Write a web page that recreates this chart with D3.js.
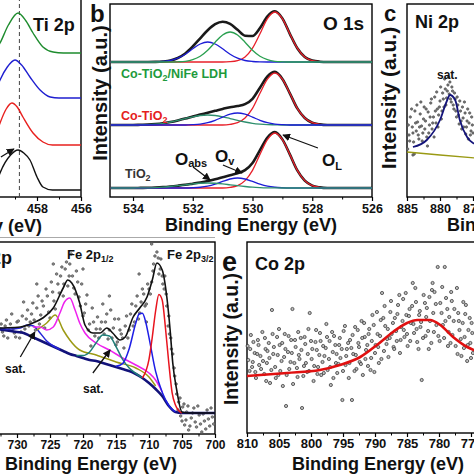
<!DOCTYPE html>
<html>
<head>
<meta charset="utf-8">
<script src="https://cdn.jsdelivr.net/npm/d3@7"></script>
<style>
  body { margin: 0; background: #fff; }
  svg text { font-family: "Liberation Sans", Arial, sans-serif; font-weight: bold; }
</style>
</head>
<body>
<div id="fig"></div>
<script>
// ---------- data (binding energy eV, intensity a.u.) ----------

// a) Ti 2p, four stacked spectra
const tiGreen = [[459.9,146],[459.68,154],[459.3,172],[458.86,184],[458.5,176],[458.18,164],[457.73,150],[457.27,145],[456.8,144],[456,144]];
const tiBlue  = [[459.9,105],[459.68,117],[459.35,130],[459.0,137],[458.7,132],[458.32,120],[457.86,107],[457.4,100],[457,99],[456,99]];
const tiRed   = [[459.9,60],[459.68,74],[459.4,88],[459.14,94],[458.9,90],[458.64,80],[458.18,64],[457.73,55],[457.3,52],[456,52]];
const tiBlack = [[459.9,10],[459.68,24],[459.2,42],[458.86,47],[458.6,44],[458.32,37],[458.0,20],[457.73,10],[457.3,7],[456,7]];
const tiRef = 458.8;

// b) O 1s fits: energy grid + component heights above each spectrum baseline
const oGrid = [534.75,534.5,534.25,534,533.75,533.5,533.25,533,532.75,532.5,532.25,532,531.75,531.5,531.25,531,
  530.75,530.5,530.25,530,529.75,529.5,529.25,529,528.75,528.5,528.25,528,527.75,527.5,527.25,527,526.75,526.5,526.25,526];
const oBase = [135, 72, 9]; // LDH, Co-TiO2, TiO2
const oLatt = [
  [0,0,0,0,0,0,0,0,0,0,0,0,0,0,0,0,0.3,1.4,5,13.8,28.2,43.4,50,43.4,28.2,13.8,5,1.4,0.3,0,0,0,0,0,0,0],
  [0,0,0,0,0,0,0,0,0,0,0,0,0,0,0,0,0.6,2.3,7,16.6,31.7,45.8,52,45.8,31.7,16.6,7,2.3,0.6,0,0,0,0,0,0,0],
  [0,0,0,0,0,0,0,0,0,0,0,0,0,0,0,0,0.6,2.4,7.4,17.6,33.6,48.4,55,48.4,33.6,17.6,7.4,2.4,0.6,0,0,0,0,0,0,0]
];
const oVac = [
  [0,0,0,0,0,0,0.1,0.5,1.5,3.8,7.8,13.2,18,20,18,13.2,7.8,3.8,1.5,0.5,0.1,0,0,0,0,0,0,0,0,0,0,0,0,0,0,0],
  [0,0,0,0,0,0,0,0,0,0,0,0.3,0.9,2.3,4.7,7.9,10.8,12,10.8,7.9,4.7,2.3,0.9,0.3,0,0,0,0,0,0,0,0,0,0,0,0],
  [0,0,0,0,0,0,0,0,0,0,0,0.24,0.76,1.9,3.9,6.6,9,10,9,6.6,3.9,1.9,0.76,0.24,0,0,0,0,0,0,0,0,0,0,0,0]
];
const oAbs = [
  [0,0,0,0,0,0,0,0,0,0.2,0.7,2.3,5.7,11.7,19.8,27,30,27,19.8,11.7,5.7,2.3,0.7,0.2,0,0,0,0,0,0,0,0,0,0,0,0],
  [0,0,0,0,0.2,0.4,0.9,1.7,3,4.6,6.4,8.2,9.5,10,9.5,8.2,6.4,4.6,3,1.7,0.9,0.4,0.2,0,0,0,0,0,0,0,0,0,0,0,0,0],
  [0,0,0,0,0.1,0.2,0.45,0.85,1.5,2.3,3.2,4.1,4.75,5,4.75,4.1,3.2,2.3,1.5,0.85,0.45,0.2,0.1,0,0,0,0,0,0,0,0,0,0,0,0,0]
];

// c) Ni 2p
const niSat  = [[884.1,50],[882,57],[880,77],[878.9,97],[878.5,102],[877.7,97],[877,77],[875.9,60],[875,54],[874.6,53]];
const niBg   = [[885,45],[880,42],[874.6,39]];
const niDots = [[884.7,62],[884.5,80],[884.2,70],[884,55],[883.8,86],[883.6,66],[883.4,75],[883.2,58],[883,83],[882.8,71],
  [882.6,64],[882.4,90],[882.2,76],[882,60],[881.8,85],[881.6,72],[881.4,94],[881.2,68],[881,80],[880.8,100],[880.6,74],
  [880.4,88],[880.2,82],[880,96],[879.8,78],[879.6,104],[879.4,90],[879.2,108],[879,99],[878.8,112],[878.6,103],[878.5,115],
  [878.3,95],[878.1,106],[877.9,88],[877.7,98],[877.5,80],[877.3,92],[877.1,73],[876.9,86],[876.7,68],[876.5,79],[876.3,95],
  [876.1,63],[875.9,76],[875.7,58],[875.5,84],[875.3,66],[875.1,72],[884.9,48],[883.9,43],[881.9,51],[880.9,60],[884.1,42],
  [884.8,72],[884.6,56],[884.3,88],[884.1,64],[883.7,74],[883.5,92],[883.3,62],[883.1,70],[882.9,95],[882.7,56],[882.5,78],
  [882.3,68],[882.1,88],[881.7,64],[881.5,80],[881.3,98],[881.1,74],[880.7,86],[880.5,105],[880.3,70],[880.1,90],[879.9,110],
  [879.7,86],[879.5,98],[879.3,118],[879.1,92],[878.9,106],[878.7,120],[878.4,98],[878.2,110],[878,92],[877.8,104],[877.6,86],
  [877.4,100],[877.2,82],[877,96],[876.8,76],[876.6,90],[876.4,70],[876.2,84],[876,70],[875.8,88],[875.6,74],[875.4,62],
  [875.2,80],[875,64]];

// d) Fe 2p
const feBg = [[735,106],[733,105],[732,104],[731,103],[730,102],[729,101],[728,98],[727,95],[726,92],[725,89],[724,86],[723,83],[722,80],
  [721,78],[720,76],[719,74],[718,73],[717,71],[716,69],[715,67],[714,65],[713,63],[712,60],[711,56],[710,51],[709,45],[708,38],
  [707,28],[706,22],[705,21],[704,21],[700,21]];
const feSat1  = [[735,107],[733,106],[731,105],[729.5,106],[728.5,109],[727.5,108],[726.5,101],[725.5,93],[724.5,88],[723.5,84.5]];
const feOlive = [[727,104],[725.5,111],[724.2,119],[723,104],[722,94],[720.5,84],[718,79],[715,72],[712,66],[710,57],[709,48]];
const feMag   = [[727.6,107],[726.5,107],[725.5,104],[724.5,107],[723.5,121],[722.8,132],[722,136],[721.2,124],[720.5,111],
  [719.7,101],[718,91],[716,84],[714,76],[712,69],[710,61],[709,54],[708,42]];
const feTeal  = [[721,78.5],[720,78.4],[719,82],[718,91.2],[717,99],[716,98],[715,87.4],[714,74.7],[713,66],[712,60.7],[711,56]];
const feBlue  = [[715,67.7],[714,70.4],[713,85.3],[712,111],[711.5,120],[711,120.8],[710.5,112],[710,96.4],[709,62.6],[708,41.8],[707,28.5],[706,22]];
const feRed   = [[711,56],[710,74.6],[709.5,97],[709,123],[708.5,139.5],[708,134],[707.5,105.6],[707,71],[706.5,41.4],[706,29],[705.5,23.5],[705,21]];
const feFit   = [[735,105],[732.6,106],[729.5,107],[727.6,111],[726.1,116],[724.5,126],[723,146],[722.3,154],[721.7,151],[720.5,131],
  [719.7,109],[718.5,101],[717.4,101],[716.4,106],[715.5,101],[714.4,94],[713.6,97],[712.4,117],[711.4,126],[710.3,137],
  [709.5,154],[708.8,171],[708.0,164],[707.3,137],[706.8,104],[706.4,71],[705.8,44],[705,22],[704,21],[700,21]];
const feDots = [[732.4,110],[732,98],[731.6,114],[731.2,104],[730.8,120],[730.4,101],[730,112],[729.6,96],[729.2,118],[728.8,105],
  [728.4,124],[728,112],[727.6,131],[727.2,104],[726.8,138],[726.4,119],[726,128],[725.6,145],[725.2,122],[724.8,152],[724.4,133],
  [724,160],[723.6,141],[723.2,167],[722.9,150],[722.5,172],[722.1,158],[721.8,180],[721.4,146],[721,163],[720.6,137],[720.2,150],
  [719.8,121],[719.4,139],[719,110],[718.6,126],[718.2,98],[717.8,117],[717.4,105],[717,130],[716.6,112],[716.2,95],[715.8,124],
  [715.4,106],[715,89],[714.6,115],[714.2,100],[713.8,86],[713.4,118],[713,104],[712.6,130],[712.2,112],[711.8,138],[711.4,121],
  [711,145],[710.6,128],[710.2,150],[709.8,140],[709.4,163],[709.1,178],[708.8,182],[708.5,160],[708.2,175],[707.9,150],[707.6,158],
  [707.3,128],[707,118],[706.7,96],[706.4,80],[706.1,58],[705.8,40],[705.5,32],[705.2,18],[704.9,27],[704.6,9],[704.3,22],[704,4],
  [703.6,16],[703.2,26],[702.8,7],[702.4,19],[702,2],[701.6,13],[701.2,24],[700.8,8],[700.4,17],[729,132],[727,150],[724.5,170],
  [720,165],[716,138],[711.5,160],[709.6,190],[710.4,112],[725.8,106],[718.8,88],
  [732.2,102],[731.8,108],[731.4,96],[731,110],[730.6,105],[730.2,97],[729.8,113],[729.4,102],[728.6,115],[728.2,108],[727.8,120],
  [727.4,114],[727,126],[726.6,110],[726.2,133],[725.4,138],[725,116],[724.6,142],[724.2,125],[723.8,150],[723.4,158],[723,138],
  [722.7,165],[722.3,148],[722,170],[721.6,158],[721.2,140],[720.8,152],[720.4,128],[720,118],[719.6,130],[719.2,104],[718.4,112],
  [718,105],[717.6,96],[717.2,112],[716.8,100],[716.4,120],[716,104],[715.6,96],[715.2,115],[714.8,92],[714.4,104],[714,96],
  [713.6,108],[713.2,96],[712.8,120],[712.4,108],[712,128],[711.6,115],[711.2,132],[710.8,140],[710.4,130],[710,145],[709.6,152],
  [709.3,170],[708.6,176],[708.3,165],[708,158],[707.7,145],[707.4,140],[707.1,108],[706.9,100],[706.6,85],[706.2,66],[705.9,50],
  [705.6,24],[705.3,36],[705,13],[704.7,30],[704.4,14],[704.1,28],[703.8,8],[703.4,21],[703,12],[702.6,28],[702.2,10],[701.8,20],
  [701.4,5],[701,15],[700.6,26],[700.2,10]];

// e) Co 2p
const coFit = [[810,57],[803.75,60],[798.6,63],[795.5,68],[792.3,76],[789.7,88],[787.2,101],[785,110],[783.4,113],[781.4,113],
  [779.8,108],[777.8,96],[775.6,86],[774.2,82]];
const coDots = [[809.9,87],[809.6,62],[809.4,98],[809.1,71],[808.8,80],[808.6,55],[808.3,93],[808.1,68],[807.9,77],[807.6,101],
  [807.3,59],[807.1,84],[806.9,70],[806.6,90],[806.4,50],[806.1,123],[805.9,79],[805.6,66],[805.3,96],[805.1,58],[804.9,88],
  [804.6,72],[804.4,47],[804.1,99],[803.9,27],[803.6,81],[803.4,64],[803.1,93],[802.9,124],[802.6,70],[802.4,86],[802.1,56],
  [801.9,78],[801.6,95],[801.4,25],[801.1,67],[800.9,89],[800.6,61],[800.4,104],[800.2,120],[799.9,74],[799.6,52],[799.3,91],
  [799.1,83],[798.9,66],[798.6,100],[798.4,58],[798.1,87],[797.9,77],[797.6,109],[797.4,63],[797.1,92],[796.9,48],[796.6,81],
  [796.4,97],[796.1,70],[795.9,60],[795.6,88],[795.4,75],[795.1,33],[794.9,102],[794.6,68],[794.4,84],[794.1,55],[793.9,93],
  [793.6,33],[793.4,79],[793.1,106],[792.9,64],[792.6,90],[792.4,71],[792.1,112],[791.9,58],[791.6,96],[791.4,83],[791.1,67],
  [790.9,104],[790.6,75],[790.4,118],[790.1,61],[789.9,88],[789.6,99],[789.4,70],[789.1,113],[788.9,140],[788.6,82],[788.4,107],
  [788.1,94],[787.9,76],[787.6,121],[787.4,99],[787.1,86],[786.9,115],[786.6,92],[786.4,128],[786.1,80],[785.9,106],[785.6,134],
  [785.4,96],[785.1,118],[784.9,87],[784.6,124],[784.4,110],[784.1,150],[783.9,100],[783.6,131],[783.4,91],[783.1,118],[782.9,106],
  [782.7,53],[782.4,138],[782.1,97],[781.9,125],[781.6,84],[781.4,112],[781.1,143],[781.0,150],[780.8,101],[780.5,129],[780.2,166],
  [779.9,92],[779.6,120],[779.4,108],[779.1,166],[778.9,135],[778.6,87],[778.4,116],[778.1,141],[777.9,98],[777.6,124],[777.2,145],
  [777.1,79],[776.9,112],[776.6,94],[776.2,131],[776.1,85],[775.9,119],[775.6,72],[775.4,103],[775.1,90],[774.9,110],[774.7,80],
  [809.8,73],[809.5,84],[809.2,66],[809.0,91],[808.7,61],[808.4,79],[808.2,88],[807.8,64],[807.5,72],[807.2,95],[807.0,52],
  [806.8,82],[806.5,75],[806.2,63],[806.0,99],[805.8,86],[805.5,55],[805.2,78],[805.0,104],[804.8,62],[804.5,90],[804.2,76],
  [804.0,84],[803.8,58],[803.5,97],[803.2,71],[803.0,80],[802.8,49],[802.5,93],[802.2,65],[802.0,101],[801.8,74],[801.5,83],
  [801.2,57],[801.0,96],[800.8,70],[800.5,79],[800.3,62],[800.0,92],[799.8,84],[799.5,67],[799.2,103],[799.0,59],[798.7,78],
  [798.5,92],[798.2,71],[798.0,60],[797.7,85],[797.5,96],[797.2,74],[797.0,66],[796.7,101],[796.5,55],[796.2,88],[796.0,79],
  [795.7,69],[795.5,95],[795.2,84],[795.0,62],[794.7,107],[794.5,77],[794.2,90],[794.0,70],[793.7,85],[793.5,98],[793.2,62],
  [793.0,78],[792.7,103],[792.5,86],[792.2,69],[792.0,95],[791.7,110],[791.5,74],[791.2,88],[791.0,99],[790.7,63],[790.5,92],
  [790.2,108],[790.0,80],[789.7,121],[789.5,86],[789.2,97],[789.0,74],[788.7,115],[788.5,127],[788.2,89],[788.0,104],[787.7,95],
  [787.5,132],[787.2,110],[787.0,84],[786.7,102],[786.5,119],[786.2,138],[786.0,93],[785.7,112],[785.5,103],[785.2,140],[785.0,99],
  [784.7,117],[784.5,92],[784.2,127],[784.0,109],[783.7,145],[783.5,104],[783.2,84],[783.0,122],[782.8,111],[782.5,95],[782.2,130],
  [782.0,116],[781.7,102],[781.5,136],[781.2,90],[780.9,120],[780.7,141],[780.4,108],[780.1,97],[779.8,130],[779.5,146],[779.2,95],
  [779.0,112],[778.7,124],[778.5,101],[778.2,90],[778.0,132],[777.7,112],[777.4,87],[777.0,120],[776.8,103],[776.5,77],[776.3,110],
  [776.0,96],[775.8,128],[775.5,88],[775.2,115],[775.0,75],[774.8,100]];

// ---------- drawing ----------
const svg = d3.select("#fig").append("svg").attr("width", 474).attr("height", 474);
const font = "'Liberation Sans', Arial, sans-serif";

svg.append("defs").append("marker")
    .attr("id", "arr").attr("viewBox", "0 0 10 10").attr("refX", 9).attr("refY", 5)
    .attr("markerWidth", 6).attr("markerHeight", 6).attr("orient", "auto-start-reverse")
  .append("path").attr("d", "M0,0 L10,5 L0,10 z").attr("fill", "#111");

// a frame with bottom axis; y is 1 a.u. per pixel
function panel(p) {
  const g = svg.append("g");
  const x = d3.scaleLinear().domain(p.xDom).range(p.xRange);
  const y = d3.scaleLinear().domain([0, p.bottom - p.top]).range([p.bottom, p.top]);
  g.append("rect")
      .attr("x", p.left).attr("y", p.top)
      .attr("width", p.right - p.left).attr("height", p.bottom - p.top)
      .attr("fill", "none").attr("stroke", "#000").attr("stroke-width", 1.4);
  const ax = g.append("g").attr("transform", `translate(0,${p.bottom})`)
      .call(d3.axisBottom(x).tickValues(p.major).tickSize(4).tickSizeOuter(0).tickPadding(p.pad || 3).tickFormat(d3.format("d")));
  ax.select(".domain").remove();
  ax.selectAll("line").attr("stroke-width", 1.2);
  ax.selectAll("text").attr("font-size", p.tickFs || 12.5).attr("font-family", font).attr("fill", "#111");
  const mn = g.append("g").attr("transform", `translate(0,${p.bottom})`)
      .call(d3.axisBottom(x).tickValues(p.minor).tickSize(2.5).tickSizeOuter(0));
  mn.select(".domain").remove();
  mn.selectAll("text").remove();
  return {g, x, y};
}

function addLine(P, data, color, w) {
  P.g.append("path").datum(data)
    .attr("fill", "none").attr("stroke", color).attr("stroke-width", w)
    .attr("stroke-linejoin", "round")
    .attr("d", d3.line().x(d => P.x(d[0])).y(d => P.y(d[1])).curve(d3.curveMonotoneX));
}

function addDots(P, data, r, fill, stroke) {
  P.g.append("g").selectAll("circle").data(data).join("circle")
    .attr("cx", d => P.x(d[0])).attr("cy", d => P.y(d[1])).attr("r", r)
    .attr("fill", fill).attr("stroke", stroke).attr("stroke-width", 0.7);
}

function addArrow(P, from, to) {
  P.g.append("line")
    .attr("x1", P.x(from[0])).attr("y1", P.y(from[1]))
    .attr("x2", P.x(to[0])).attr("y2", P.y(to[1]))
    .attr("stroke", "#111").attr("stroke-width", 1.3).attr("marker-end", "url(#arr)");
}

function label(txt, x, y, fs, opts = {}) {
  const t = svg.append("text").attr("x", x).attr("y", y).attr("font-size", fs)
    .attr("fill", opts.fill || "#111").attr("text-anchor", opts.anchor || "start");
  if (opts.rotate) t.attr("x", 0).attr("y", 0).attr("transform", `translate(${x},${y}) rotate(-90)`);
  if (Array.isArray(txt)) {
    txt.forEach(s => {
      if (typeof s === "string") t.append("tspan").text(s);
      else t.append("tspan").attr("font-size", s.fs).attr("dy", s.dy).text(s.t);
    });
  } else t.text(txt);
  return t;
}

// separator line under top row
svg.append("line").attr("x1", 0).attr("x2", 215).attr("y1", 237.5).attr("y2", 237.5)
  .attr("stroke", "#aaa").attr("stroke-width", 1);

// ----- panel a -----
const A = panel({left: -51, right: 81, top: -5, bottom: 197, xDom: [462, 456], xRange: [-51, 81],
  major: [458, 456], minor: [459, 457]});
A.g.append("line").attr("x1", A.x(tiRef)).attr("x2", A.x(tiRef)).attr("y1", A.y(200)).attr("y2", A.y(0))
  .attr("stroke", "#444").attr("stroke-width", 1).attr("stroke-dasharray", "4,3");
addLine(A, tiGreen, "#1e8c2e", 1.4);
addLine(A, tiBlue, "#1f1fd0", 1.4);
addLine(A, tiRed, "#e8201e", 1.4);
addLine(A, tiBlack, "#111", 1.4);
addArrow(A, [459.64, 40], [459.05, 48]);
label("Ti 2p", 33, 31, 18);
label("Binding Energy (eV)", 42, 232, 18, {anchor: "end"});

// ----- panel b -----
const B = panel({left: 110, right: 372, top: 4, bottom: 197, xDom: [534.77, 526], xRange: [110, 372],
  major: [534, 532, 530, 528, 526], minor: [533, 531, 529, 527]});
const greens = ["#2aa050", "#2e8f6e", "#2e8f6e"];
oBase.forEach((b, k) => {
  const comp = arr => oGrid.map((e, i) => [e, b + arr[i]]);
  const env = oGrid.map((e, i) => [e, b + oLatt[k][i] + oVac[k][i] + oAbs[k][i]]);
  addLine(B, env, "#1a1a1a", 2.6);
  if (k === 1) {
    addLine(B, comp(oLatt[k]), "#e8202a", 1.3);
    addLine(B, comp(oAbs[k]), greens[k], 1.3);
    addLine(B, comp(oVac[k]), "#1c1cd6", 1.3);
  } else {
    addLine(B, comp(oLatt[k]), "#e8202a", 1.3);
    addLine(B, comp(oVac[k]), "#1c1cd6", 1.3);
    addLine(B, comp(oAbs[k]), greens[k], 1.3);
  }
});
addArrow(B, [527.81, 49], [528.98, 62]);
addArrow(B, [531.99, 30], [531.42, 17]);
addArrow(B, [530.99, 32], [530.35, 24]);
label("O 1s", 323, 30, 19);
label(["Co-TiO", {t: "2", fs: 9, dy: 3}, {t: "/NiFe LDH", fs: 12.5, dy: -3}], 121, 78, 12.5, {fill: "#1e9a3c"});
label(["Co-TiO", {t: "2", fs: 9, dy: 3}], 121, 120, 12.5, {fill: "#e52020"});
label(["TiO", {t: "2", fs: 9, dy: 3}], 125, 178, 12.5, {fill: "#333"});
label(["O", {t: "abs", fs: 11, dy: 2}], 175, 165, 17);
label(["O", {t: "v", fs: 11, dy: 3}], 215, 162, 17);
label(["O", {t: "L", fs: 11, dy: 4}], 322, 166, 17);
label("b", 90, 22, 24);
label("Intensity (a.u.)", 107, 93, 20, {rotate: true, anchor: "middle"});
label("Binding Energy (eV)", 251, 231, 18, {anchor: "middle"});

// ----- panel c -----
const C = panel({left: 407, right: 520, top: 4, bottom: 197, xDom: [885, 870], xRange: [407, 506],
  major: [885, 880, 875], minor: [882.5, 877.5]});
addDots(C, niDots, 1.2, "#777", "#555");
addLine(C, niBg, "#9a9a14", 1.4);
addLine(C, niSat, "#14147a", 1.8);
label("c", 384, 21, 22);
label("Ni 2p", 415, 28, 18);
label("sat.", 437, 79, 12);
label("Intensity (a.u.)", 396, 98, 21, {rotate: true, anchor: "middle"});
label("Binding Energy (eV)", 447, 231, 18);

// ----- panel d -----
const D = panel({left: -40, right: 215, top: 242, bottom: 434, xDom: [735, 700], xRange: [-16, 215], pad: 2,
  major: [730, 725, 720, 715, 710, 705, 700], minor: [732.5, 727.5, 722.5, 717.5, 712.5, 707.5, 702.5], tickFs: 12});
addDots(D, feDots, 1.3, "#888", "#555");
addLine(D, feBg, "#12127a", 2.6);
addLine(D, feSat1, "#2525d8", 1.5);
addLine(D, feOlive, "#9c9a14", 1.5);
addLine(D, feMag, "#ee22ee", 1.5);
addLine(D, feTeal, "#1f7f78", 1.5);
addLine(D, feBlue, "#1e1ee6", 1.5);
addLine(D, feRed, "#e8141e", 1.5);
addLine(D, feFit, "#111", 1.6);
addArrow(D, [729.5, 77], [727.3, 102]);
addArrow(D, [718.5, 61], [715.9, 84]);
label("Fe 2p", 12, 264, 18, {anchor: "end"});
label(["Fe 2p", {t: "1/2", fs: 9, dy: 3}], 67, 259, 13);
label(["Fe 2p", {t: "3/2", fs: 9, dy: 3}], 167, 259, 13);
label("sat.", 5, 373, 12);
label("sat.", 83, 393, 12);
label("Binding Energy (eV)", 177, 470, 18, {anchor: "end"});

// ----- panel e -----
const E = panel({left: 247, right: 520, top: 242, bottom: 433, xDom: [810, 770], xRange: [247, 503], pad: 2,
  major: [810, 805, 800, 795, 790, 785, 780, 775], minor: [807.5, 802.5, 797.5, 792.5, 787.5, 782.5, 777.5], tickFs: 13});
addDots(E, coDots, 1.6, "#bdbdbd", "#2a2a2a");
addLine(E, coFit, "#e01010", 2.6);
label("e", 222, 271, 27);
label("Co 2p", 255, 270, 18);
label("Intensity (a.u.)", 238, 339, 19.5, {rotate: true, anchor: "middle"});
label("Binding Energy (eV)", 292, 470, 18);
</script>
</body>
</html>
